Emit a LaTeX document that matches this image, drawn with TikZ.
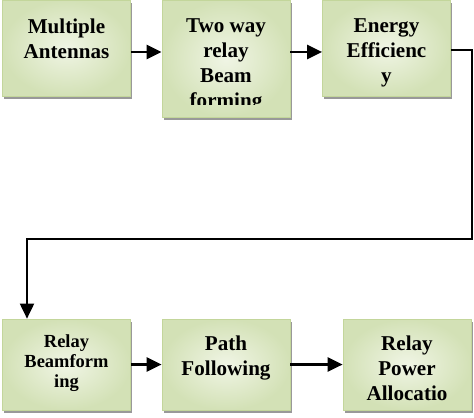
\documentclass[tikz,border=0pt]{standalone}
\usepackage{fontspec}
\setmainfont{Liberation Serif}
\usetikzlibrary{arrows.meta, positioning, shadows}
\definecolor{boxedge}{HTML}{C3D69B}
\definecolor{boxin}{HTML}{F0F5E5}
\definecolor{boxout}{HTML}{D3E1B6}
\tikzstyle{block} = [rectangle, draw=boxedge, inner color=boxin, outer color=boxout, minimum width=2.56cm, minimum height=1.92cm, drop shadow={shadow xshift=0.03cm, shadow yshift=-0.06cm, fill=black!40, opacity=1}]
\tikzstyle{txt} = [align=center, font=\fontsize{12}{14.2}\selectfont\bfseries, inner sep=0pt]
\tikzstyle{arrow} = [line width=1.5pt, -{Triangle[length=0.3cm, width=0.28cm]}]

\begin{document}
\begin{tikzpicture}
    \useasboundingbox (0,0) rectangle (9.48,8.34);

    % Top row
    \node (ant) [block] at (1.33,7.38) {};
    \node (relay) [block, minimum height=2.34cm] at (4.52,7.17) {};
    \node (eff) [block] at (7.73,7.38) {};
    \node (antText) [txt, below=0.37cm of ant.north] {Multiple\\Antennas};
    \begin{scope}
        \clip (relay.north west) rectangle ([yshift=0.26cm]relay.south east);
        \node (relayText) [txt, below=0.37cm of relay.north] {Two way\\relay\\Beam\\forming};
    \end{scope}
    \node (effText) [txt, below=0.37cm of eff.north] {Energy\\Efficienc\\y};

    % Bottom row
    \node (rbeam) [block, minimum height=1.82cm] at (1.33,1.05) {};
    \node (path) [block, minimum height=1.82cm] at (4.52,1.05) {};
    \node (power) [block, minimum height=1.82cm] at (8.14,1.05) {};
    \node (rbeamText) [txt, font=\fontsize{10.5}{11.4}\selectfont\bfseries, below=0.32cm of rbeam.north] {Relay\\Beamform\\ing};
    \node (pathText) [txt, below=0.34cm of path.north] {Path\\Following};
    \node (powerText) [txt, below=0.34cm of power.north] {Relay\\Power\\Allocatio};

    % Connections
    \draw [arrow] ([yshift=-0.08cm]ant.east) -- ([yshift=-0.08cm]ant.east -| relay.west);
    \draw [arrow] ([yshift=-0.08cm]eff.west -| relay.east) -- ([yshift=-0.08cm]eff.west);
    \coordinate (turn) at (9.44,3.56);
    \draw [arrow, line width=1.1pt] ([yshift=-0.04cm]eff.east) -| (turn) -| ([xshift=-0.79cm]rbeam.north);
    \draw [arrow] (rbeam) -- (path);
    \draw [arrow] (path) -- (power);
\end{tikzpicture}
\end{document}
